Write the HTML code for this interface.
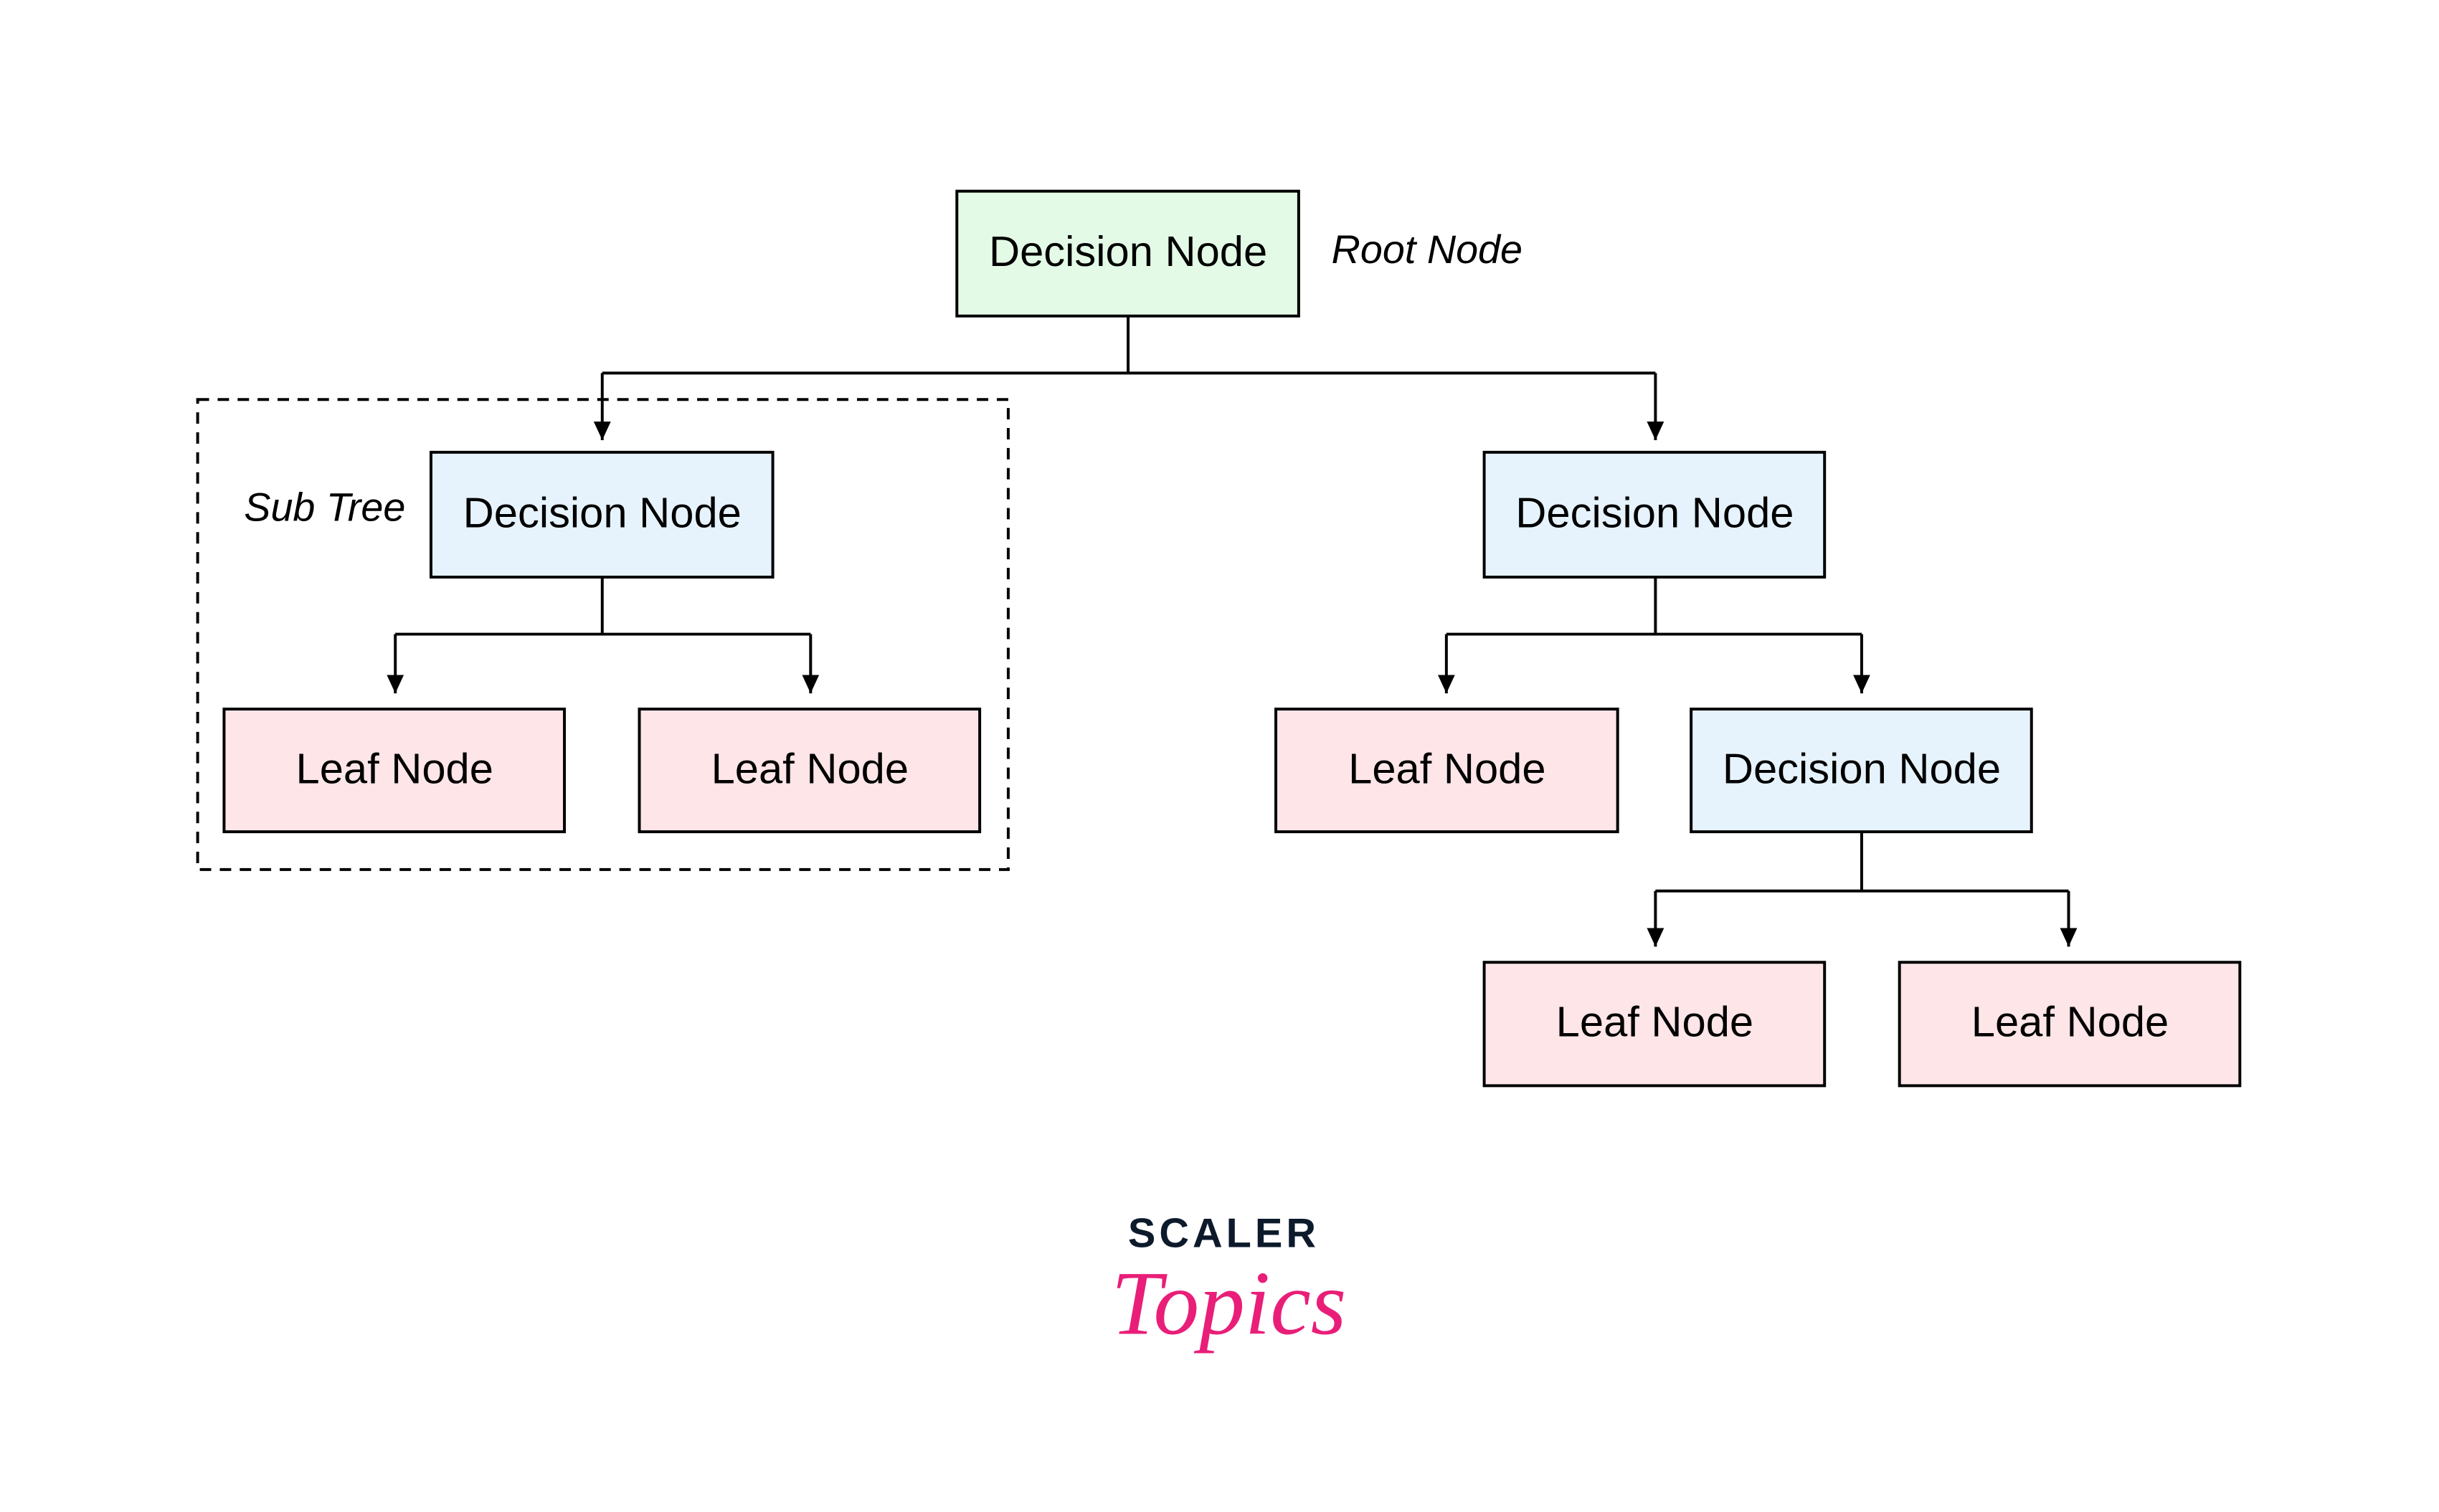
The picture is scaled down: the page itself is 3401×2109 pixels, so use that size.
<!DOCTYPE html>
<html><head><meta charset="utf-8"><style>
html,body{margin:0;padding:0;background:#fff;width:3401px;height:2109px;overflow:hidden}
</style></head><body>
<svg width="3401" height="2109" viewBox="0 0 3401 2109" xmlns="http://www.w3.org/2000/svg" font-family="Liberation Sans, sans-serif">
<defs>
<marker id="a" markerWidth="26" markerHeight="24" refX="26" refY="12" orient="auto" markerUnits="userSpaceOnUse">
<path d="M0,0 L26,12 L0,24 z" fill="#000"/>
</marker>
</defs>
<g transform="scale(0.995)">
<g fill="none" stroke="#000" stroke-width="4">
<rect x="277" y="560" width="1136" height="659" stroke-dasharray="16,12"/>
<path d="M1581,443 V523 M844,523 H2320"/>
<path d="M844,523 V617" marker-end="url(#a)"/>
<path d="M2320,523 V617" marker-end="url(#a)"/>
<path d="M844,809 V889 M554,889 H1136"/>
<path d="M554,889 V972" marker-end="url(#a)"/>
<path d="M1136,889 V972" marker-end="url(#a)"/>
<path d="M2320,809 V889 M2027,889 H2609"/>
<path d="M2027,889 V972" marker-end="url(#a)"/>
<path d="M2609,889 V972" marker-end="url(#a)"/>
<path d="M2609,1166 V1249 M2320,1249 H2899"/>
<path d="M2320,1249 V1327" marker-end="url(#a)"/>
<path d="M2899,1249 V1327" marker-end="url(#a)"/>
</g>
<g stroke="#000" stroke-width="4">
<rect x="1341" y="268" width="479" height="175" fill="#e3fbe6"/>
<rect x="604" y="634" width="479" height="175" fill="#e6f3fd"/>
<rect x="2080" y="634" width="477" height="175" fill="#e6f3fd"/>
<rect x="314" y="994" width="477" height="172" fill="#fde5e8"/>
<rect x="896" y="994" width="477" height="172" fill="#fde5e8"/>
<rect x="1788" y="994" width="479" height="172" fill="#fde5e8"/>
<rect x="2370" y="994" width="477" height="172" fill="#e6f3fd"/>
<rect x="2080" y="1349" width="477" height="173" fill="#fde5e8"/>
<rect x="2662" y="1349" width="477" height="173" fill="#fde5e8"/>
</g>
<g font-size="60" fill="#000" text-anchor="middle">
<text x="1581" y="373">Decision Node</text>
<text x="844" y="739">Decision Node</text>
<text x="2319" y="739">Decision Node</text>
<text x="553" y="1098">Leaf Node</text>
<text x="1135" y="1098">Leaf Node</text>
<text x="2028" y="1098">Leaf Node</text>
<text x="2609" y="1098">Decision Node</text>
<text x="2319" y="1453">Leaf Node</text>
<text x="2901" y="1453">Leaf Node</text>
</g>
<g font-size="56" font-style="italic" fill="#000">
<text x="1866" y="369">Root Node</text>
<text x="342" y="730">Sub Tree</text>
</g>
<text x="1715" y="1748" text-anchor="middle" font-size="58" font-weight="bold" letter-spacing="5" fill="#0c1a2b">SCALER</text>
<text x="1722" y="1870" text-anchor="middle" font-size="128" font-style="italic" font-family="Liberation Serif, serif" fill="#e91e78">Topics</text>
</g>
</svg>
</body></html>
